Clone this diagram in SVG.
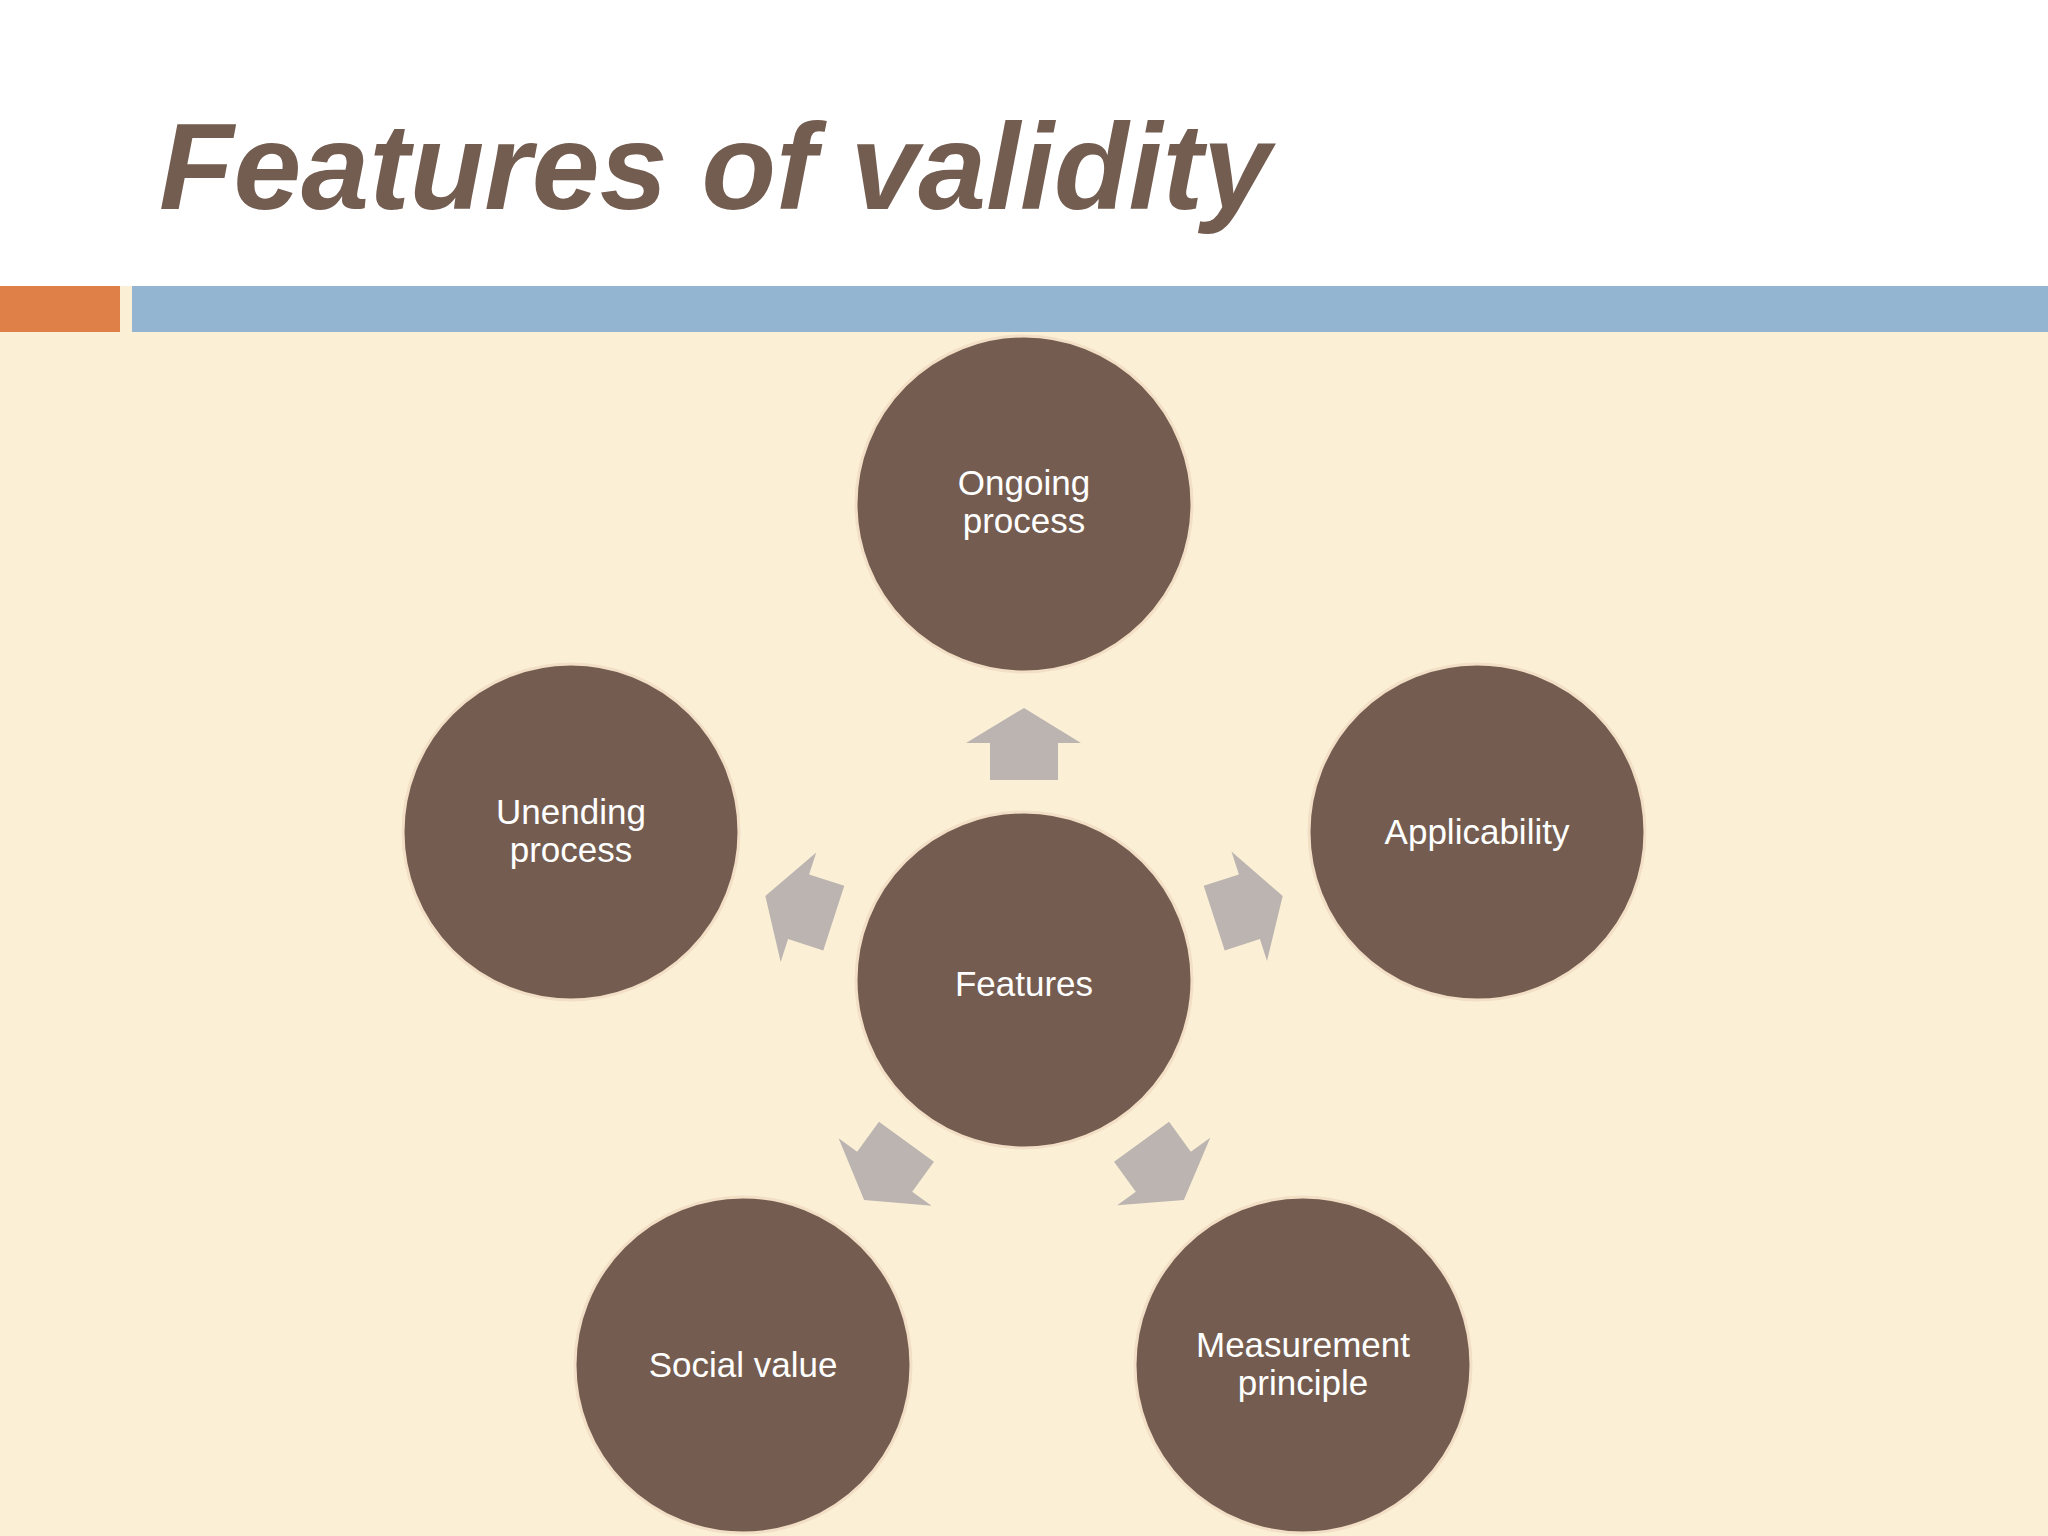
<svg xmlns="http://www.w3.org/2000/svg" width="2048" height="1536" viewBox="0 0 2048 1536">
<style>
.n{fill:#745d50;stroke:#f2dfc6;stroke-width:3}
.t{fill:#fff;font-family:"Liberation Sans",Arial,sans-serif;font-size:35px;text-anchor:middle}
.a{fill:#bcb4b0}
</style>
<rect width="2048" height="1536" fill="#fbf0d6"/>
<rect width="2048" height="286" fill="#fff"/>
<rect x="0" y="286" width="120" height="46" fill="#de8047"/>
<rect x="132" y="286" width="1916" height="46" fill="#93b5d1"/>
<text x="159" y="209" font-family="Liberation Sans,Arial,sans-serif" font-size="122" font-weight="bold" font-style="italic" fill="#735c50">Features of validity</text>
<g id="connectors">
<path id="arr" class="a" d="M1024,708 L1081,743 L1058,743 L1058,780 L990,780 L990,743 L966,743 Z"/>
<use href="#arr" transform="rotate(72 1024 980)"/>
<use href="#arr" transform="rotate(144 1024 980)"/>
<use href="#arr" transform="rotate(216 1024 980)"/>
<use href="#arr" transform="rotate(288 1024 980)"/>
</g>
<g id="ongoing"><circle class="n" cx="1024" cy="504" r="168"/><text class="t" x="1024" y="495">Ongoing</text><text class="t" x="1024" y="533">process</text></g>
<g id="unending"><circle class="n" cx="571" cy="832" r="168"/><text class="t" x="571" y="824">Unending</text><text class="t" x="571" y="862">process</text></g>
<g id="applicability"><circle class="n" cx="1477" cy="832" r="168"/><text class="t" x="1477" y="844">Applicability</text></g>
<g id="features"><circle class="n" cx="1024" cy="980" r="168"/><text class="t" x="1024" y="996" font-size="56">Features</text></g>
<g id="social"><circle class="n" cx="743" cy="1365" r="168"/><text class="t" x="743" y="1377">Social value</text></g>
<g id="measurement"><circle class="n" cx="1303" cy="1365" r="168"/><text class="t" x="1303" y="1357">Measurement</text><text class="t" x="1303" y="1395">principle</text></g>
</svg>
